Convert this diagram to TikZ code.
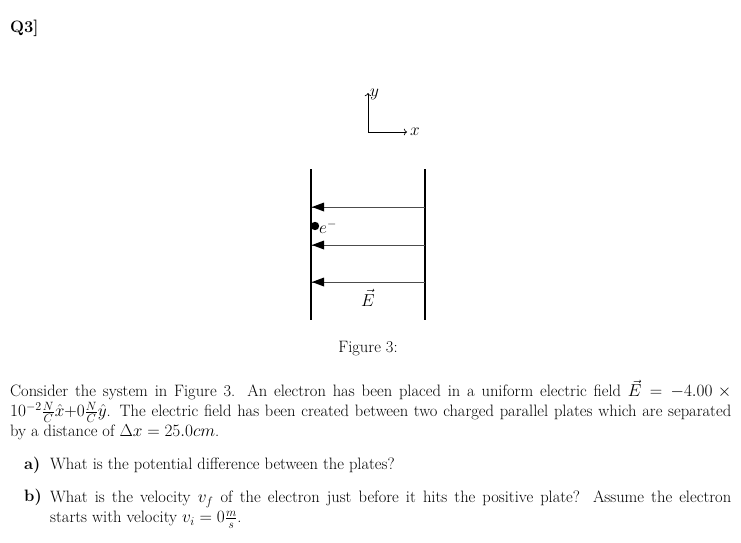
\documentclass[tikz,border=0pt]{standalone}
\usetikzlibrary{arrows.meta}
\begin{document}
\begin{tikzpicture}[x=1pt,y=-1pt,
  txt/.style={inner sep=0pt,font=\fontsize{16.5}{20}\selectfont},
  plate/.style={line width=2pt},
  field/.style={draw=black!70,line width=1pt},
  axis/.style={line width=0.7pt,->}]
\useasboundingbox (0,0) rectangle (741,543);
\node[txt,anchor=west,font=\fontsize{16.5}{20}\bfseries] (q) at (10,28) {Q3]};
% axes
\coordinate (o) at (368,132);
\coordinate (ye) at (368,93);
\coordinate (xe) at (407,132);
\draw[axis] (o) -- (ye);
\draw[axis] (o) -- (xe);
\node[txt,anchor=west] (yl) at (370,94) {$y$};
\node[txt,anchor=west] (xl) at (410,132) {$x$};
% plates
\coordinate (lt) at (311,169); \coordinate (lb) at (311,320);
\coordinate (rt) at (425,169); \coordinate (rb) at (425,320);
\draw[plate] (lt) -- (lb);
\draw[plate] (rt) -- (rb);
\foreach \yy/\n in {207/a,245/b,282/c}{
  \coordinate (s\n) at (425,\yy); \coordinate (e\n) at (312,\yy);
  \draw[field] (s\n) -- (e\n);
  \fill (e\n) -- ++(12,-4.5) -- ++(0,9) -- cycle;}
\fill (315,226) circle (4.2);
\node[txt,anchor=west] (el) at (319,227) {$e^-$};
\node[txt] (E) at (368,298) {$\vec E$};
\node[txt] (fig) at (368,349) {Figure 3:};
\node[txt,anchor=north west,text width=721pt,align=justify] (p) at (10,380)
{Consider the system in Figure 3. An electron has been placed in a uniform electric field $\vec{E}=-4.00\times10^{-2}\frac{N}{C}\hat{x}{+}0\frac{N}{C}\hat{y}$. The electric field has been created between two charged parallel plates which are separated by a distance of $\Delta x = 25.0cm$.};
\node[txt,anchor=west,font=\fontsize{16.5}{20}\bfseries] (la) at (24,465) {a)};
\node[txt,anchor=west] (ta) at (50,465) {What is the potential difference between the plates?};
\node[txt,anchor=west,font=\fontsize{16.5}{20}\bfseries] (lb2) at (24,497) {b)};
\node[txt,anchor=north west,text width=681pt,align=justify] (tb) at (50,491)
{What is the velocity $v_f$ of the electron just before it hits the positive plate? Assume the electron\linebreak starts with velocity $v_i=0\frac{m}{s}$.};
\end{tikzpicture}
\end{document}
